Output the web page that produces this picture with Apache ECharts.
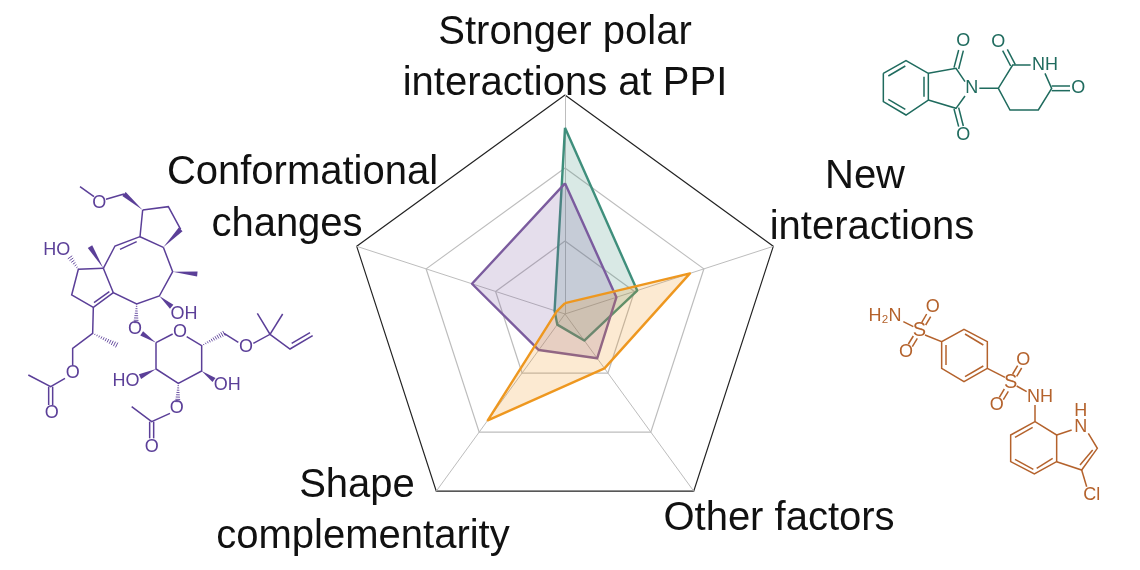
<!DOCTYPE html>
<html><head><meta charset="utf-8">
<style>html,body{margin:0;padding:0;background:#fff}#c{width:1140px;height:570px}</style>
<script src="https://cdn.jsdelivr.net/npm/echarts@6/dist/echarts.min.js"></script>
</head><body><div id="c"></div>
<script>
// Axis order runs counter-clockwise from the top, as the radar draws it
const categories = ['Stronger polar interactions at PPI','Conformational changes','Shape complementarity','Other factors','New interactions'];
const seriesNames = ['Thalidomide-like','Fusicoccin-like','Sulfonamide-like'];
const greenValues  = [2.55,0.15,0.18,0.45,1.04];
const purpleValues = [1.79,1.34,0.61,0.75,0.74];
const orangeValues = [0.15,0.12,1.80,0.92,1.80];
const axisMax = 3;

const GREEN='#3f8f7c', PURPLE='#7b5c9e', ORANGE='#ee9820';
const chart = echarts.init(document.getElementById('c'),null,{renderer:'canvas'});

// Label lines, placed by hand: [text, centre x, centre y]
const labelLines = [
 ['Stronger polar',565,33],['interactions at PPI',565,84],
 ['Conformational',302.5,173],['changes',287,225],
 ['New',865,177],['interactions',872,228],
 ['Other factors',779,519],
 ['Shape',357,486],['complementarity',363,537]
];
const g=[];
labelLines.forEach(l=>g.push({type:'text',x:l[1],y:l[2],z:20,style:{text:l[0],fill:'#111',font:'40px "Liberation Sans", Arial, sans-serif',textAlign:'center',textVerticalAlign:'middle'}}));

// Decorative molecule sketches, in 3x zoom space with an origin
function mol(ox,oy,col,m){
  const P=p=>[ox+p[0]/3,oy+p[1]/3];
  (m.lines||[]).forEach(s=>g.push({type:'polyline',silent:true,shape:{points:s.map(P)},style:{stroke:col,lineWidth:1.5,fill:null}}));
  (m.wedges||[]).forEach(w=>{
    const a=P(w[0]),b=P(w[1]),dx=b[0]-a[0],dy=b[1]-a[1],L=Math.hypot(dx,dy),nx=-dy/L*2.6,ny=dx/L*2.6;
    g.push({type:'polygon',silent:true,shape:{points:[a,[b[0]+nx,b[1]+ny],[b[0]-nx,b[1]-ny]]},style:{fill:col}});
  });
  (m.hashes||[]).forEach(w=>{
    const a=P(w[0]),b=P(w[1]),dx=b[0]-a[0],dy=b[1]-a[1],L=Math.hypot(dx,dy),n=Math.max(4,Math.round(L/2.4));
    for(let i=0;i<=n;i++){const t=i/n,h=0.4+t*2.3,cx=a[0]+dx*t,cy=a[1]+dy*t,nx=-dy/L*h,ny=dx/L*h;
      g.push({type:'line',silent:true,shape:{x1:cx+nx,y1:cy+ny,x2:cx-nx,y2:cy-ny},style:{stroke:col,lineWidth:0.9}});}
  });
  (m.texts||[]).forEach(t=>{const p=P([t[1],t[2]]);
    g.push({type:'text',silent:true,x:p[0],y:p[1],style:{text:t[0],fill:col,font:(t[3]||18)+'px "Liberation Sans", Arial, sans-serif',textAlign:'center',textVerticalAlign:'middle'}});});
}
mol(870,20,'#1f6b5e',{
 lines:[[[40,160],[108,122],[175,160],[175,240],[108,285],[40,245],[40,160]],
  [[55,168],[106,138]],[[162,170],[162,230]],[[55,238],[106,268]],
  [[175,160],[258,145],[285,185]],[[285,228],[258,265],[175,240]],
  [[252,143],[266,90]],[[266,147],[280,92]],[[252,267],[266,320]],[[266,263],[280,318]],
  [[328,205],[385,205],[428,135],[482,135]],[[525,160],[545,205],[505,270],[420,270],[385,205]],
  [[422,138],[398,92]],[[436,134],[412,88]],[[545,198],[600,198]],[[545,212],[600,212]]],
 texts:[['O',280,63],['O',280,345],['N',305,205],['NH',525,135],['O',385,65],['O',625,205]]
});
mol(860,290,'#b4622c',{
 lines:[[[130,95],[160,110]],[[185,98],[200,72]],[[197,105],[212,80]],[[160,138],[145,162]],[[172,145],[157,170]],
  [[195,135],[245,155],[312,118],[382,155],[382,235],[312,275],[245,235],[245,155]],
  [[258,165],[258,225]],[[315,132],[370,165]],[[315,260],[370,228]],
  [[382,235],[435,262]],[[458,252],[473,227]],[[470,259],[485,234]],[[433,297],[418,322]],[[445,304],[430,329]],[[470,288],[500,305]],
  [[525,345],[525,395],[590,435],[590,515],[523,552],[452,515],[452,435],[525,395]],
  [[465,442],[518,412]],[[465,508],[520,538]],
  [[590,435],[635,420]],[[685,430],[712,475],[665,540],[590,515]],[[698,480],[660,525]],[[578,505],[530,535]],[[665,540],[680,590]]],
 texts:[['H\u2082N',75,78],['S',178,122,20],['O',218,50],['O',138,187],['S',452,278,20],['O',490,210],['O',410,345],['NH',540,320],['N',662,410],['H',662,362],['Cl',695,615]]
});
mol(20,170,'#5b3f98',{
 lines:[[[180,50],[222,80]],[[258,88],[312,72]],[[368,120],[445,110],[482,178]],[[430,232],[360,200],[368,120]],
  [[360,200],[285,228],[250,295]],[[350,215],[300,238]],[[430,232],[458,305],[418,378],[350,402],[280,368],[250,295]],
  [[250,295],[175,298],[155,375],[220,412],[280,368]],[[222,398],[268,365]],
  [[220,412],[218,490],[158,535],[158,585]],[[135,625],[92,650],[25,615]],[[86,650],[86,705]],[[98,650],[98,705]],
  [[408,518],[458,492]],[[500,500],[545,527],[545,603],[475,640],[408,597],[408,518]],
  [[612,490],[655,517]],[[700,520],[750,493],[712,430]],[[750,493],[788,432]],[[750,493],[810,537],[878,497]],[[815,520],[870,488]],
  [[450,730],[395,755],[335,710]],[[389,755],[389,805]],[[401,755],[401,805]]],
 wedges:[[[368,120],[312,72]],[[430,232],[482,178]],[[250,295],[210,230]],[[458,305],[532,312]],[[418,378],[455,410]],
  [[408,518],[365,490]],[[408,597],[360,620]],[[545,603],[582,630]]],
 hashes:[[[350,402],[348,458]],[[175,298],[150,262]],[[218,490],[290,525]],[[545,527],[612,490]],[[475,640],[473,695]]],
 texts:[['O',238,98],['HO',110,240],['OH',492,432],['O',345,478],['O',158,608],['O',95,728],['O',480,487],['O',678,530],['HO',318,632],['OH',622,645],['O',470,715],['O',395,830]]
});

const mk=(name,vals,col)=>({name,value:vals,symbol:'none',lineStyle:{color:col,width:2.4},areaStyle:{color:col,opacity:0.2},itemStyle:{color:col}});
chart.setOption({
 animation:false,backgroundColor:'#fff',
 radar:{
  center:[565,314],radius:219,startAngle:90,splitNumber:3,shape:'polygon',
  indicator:categories.map(n=>({name:n,min:0,max:axisMax})),
  axisName:{show:false},
  axisLine:{lineStyle:{color:'#bdbdbd',width:1}},
  axisTick:{show:false},axisLabel:{show:false},
  splitArea:{show:false},
  splitLine:{lineStyle:{color:['#bdbdbd','#bdbdbd','#bdbdbd','#222'],width:1.2}}
 },
 series:[{type:'radar',data:[mk(seriesNames[0],greenValues,GREEN),mk(seriesNames[1],purpleValues,PURPLE),mk(seriesNames[2],orangeValues,ORANGE)]}],
 graphic:g
});
</script></body></html>
